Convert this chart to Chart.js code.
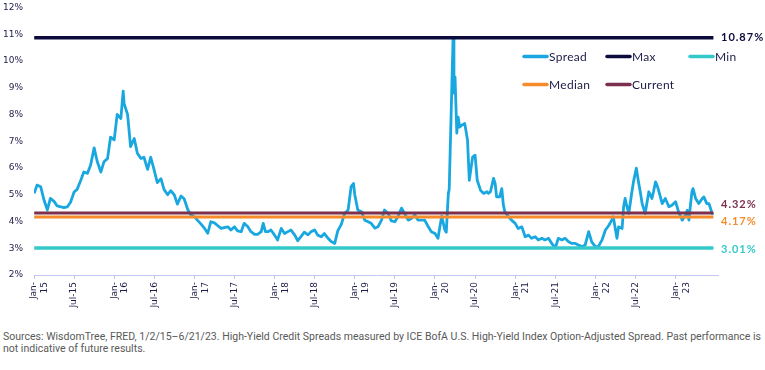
<!DOCTYPE html>
<html><head><meta charset="utf-8">
<script src="https://cdn.jsdelivr.net/npm/chart.js@4.4.1/dist/chart.umd.min.js"></script>
<style>
html,body{margin:0;padding:0;background:#fff;width:765px;height:370px;overflow:hidden}
#wrap{position:relative;width:765px;height:370px}
canvas{position:absolute;left:0;top:-9px}
.foot{position:absolute;left:3px;white-space:nowrap;font-family:'Liberation Sans Narrow','Roboto','Open Sans',sans-serif;font-size:11.5px;color:#595959;transform-origin:0 0;line-height:12px}
</style></head><body>
<div id="wrap"><canvas id="c" width="765" height="329"></canvas>
<div class="foot" id="f1" style="top:330px">Sources: WisdomTree, FRED, 1/2/15–6/21/23. High-Yield Credit Spreads measured by ICE BofA U.S. High-Yield Index Option-Adjusted Spread. Past performance is</div>
<div class="foot" id="f2" style="top:342px">not indicative of future results.</div>
</div>
<script>
// ---- DATA ----
const dates = [
 "2015-01-02","2015-01-15","2015-02-01","2015-02-15","2015-03-01","2015-03-15","2015-04-01","2015-04-15","2015-05-01","2015-05-15","2015-06-01","2015-06-15","2015-07-01","2015-07-15","2015-08-01","2015-08-15","2015-09-01","2015-09-15","2015-10-01","2015-10-15","2015-11-01","2015-11-15","2015-12-01","2015-12-15",
 "2016-01-01","2016-01-15","2016-02-01","2016-02-11","2016-02-15","2016-03-01","2016-03-15","2016-04-01","2016-04-15","2016-05-01","2016-05-15","2016-06-01","2016-06-15","2016-07-01","2016-07-15","2016-08-01","2016-08-15","2016-09-01","2016-09-15","2016-10-01","2016-10-15","2016-11-01","2016-11-15","2016-12-01","2016-12-15",
 "2017-01-01","2017-01-15","2017-02-01","2017-02-15","2017-03-01","2017-03-15","2017-04-01","2017-04-15","2017-05-01","2017-05-15","2017-06-01","2017-06-15","2017-07-01","2017-07-15","2017-08-01","2017-08-15","2017-09-01","2017-09-15","2017-10-01","2017-10-15","2017-11-01","2017-11-10","2017-11-20","2017-12-01","2017-12-15",
 "2018-01-01","2018-01-15","2018-02-01","2018-02-15","2018-03-01","2018-03-15","2018-04-01","2018-04-15","2018-05-01","2018-05-15","2018-06-01","2018-06-15","2018-07-01","2018-07-15","2018-08-01","2018-08-15","2018-09-01","2018-09-15","2018-10-01","2018-10-15","2018-11-01","2018-11-15","2018-12-01","2018-12-15","2018-12-26",
 "2019-01-01","2019-01-15","2019-02-01","2019-02-15","2019-03-01","2019-03-15","2019-04-01","2019-04-15","2019-05-01","2019-05-15","2019-06-01","2019-06-15","2019-07-01","2019-07-15","2019-08-01","2019-08-15","2019-09-01","2019-09-15","2019-10-01","2019-10-15","2019-11-01","2019-11-15","2019-12-01","2019-12-15",
 "2020-01-01","2020-01-15","2020-02-01","2020-02-15","2020-02-21","2020-03-01","2020-03-05","2020-03-12","2020-03-23","2020-03-27","2020-04-01","2020-04-09","2020-04-15","2020-04-22","2020-05-01","2020-05-15","2020-05-28","2020-06-05","2020-06-20","2020-07-01","2020-07-11","2020-07-26","2020-08-10","2020-08-25","2020-09-01","2020-09-10","2020-09-24","2020-10-01","2020-10-08","2020-10-22","2020-11-01","2020-11-08","2020-11-15","2020-12-01","2020-12-15",
 "2021-01-01","2021-01-15","2021-02-01","2021-02-15","2021-03-01","2021-03-15","2021-04-01","2021-04-15","2021-05-01","2021-05-15","2021-06-01","2021-06-15","2021-07-01","2021-07-15","2021-08-01","2021-08-15","2021-09-01","2021-09-15","2021-10-01","2021-10-15","2021-11-01","2021-11-15","2021-12-01","2021-12-15",
 "2022-01-01","2022-01-15","2022-02-01","2022-02-15","2022-03-01","2022-03-15","2022-03-22","2022-04-08","2022-04-15","2022-05-01","2022-05-08","2022-05-15","2022-05-20","2022-06-01","2022-06-15","2022-06-22","2022-07-05","2022-07-15","2022-07-22","2022-08-01","2022-08-15","2022-09-01","2022-09-15","2022-09-22","2022-10-01","2022-10-08","2022-10-15","2022-11-01","2022-11-15","2022-12-01","2022-12-15",
 "2023-01-01","2023-01-15","2023-02-01","2023-02-15","2023-02-22","2023-03-01","2023-03-08","2023-03-15","2023-03-20","2023-04-01","2023-04-15","2023-05-01","2023-05-08","2023-05-22","2023-06-01","2023-06-15","2023-06-21"
];
const spread = [
 5.05,5.36,5.30,4.80,4.43,4.86,4.75,4.58,4.55,4.52,4.55,4.72,5.10,5.20,5.54,5.85,5.80,6.10,6.75,6.25,5.85,6.23,6.35,7.15,
 7.05,8.00,7.85,8.87,8.40,8.00,6.80,7.10,6.55,6.35,6.40,5.95,6.40,5.90,5.45,5.60,5.20,5.00,5.15,4.99,4.65,4.95,4.85,4.45,4.25,
 4.18,4.05,3.90,3.75,3.56,3.99,3.95,3.85,3.74,3.77,3.80,3.68,3.80,3.65,3.62,3.93,3.80,3.62,3.52,3.52,3.62,3.93,3.62,3.62,3.68,
 3.49,3.31,3.74,3.55,3.62,3.68,3.50,3.28,3.45,3.60,3.50,3.62,3.68,3.49,3.43,3.55,3.37,3.25,3.18,3.65,3.90,4.30,4.43,5.30,5.42,
 5.00,4.43,4.36,4.05,3.99,3.93,3.75,3.80,4.05,4.43,4.30,4.02,3.99,4.18,4.50,4.30,4.05,4.11,4.24,4.05,4.05,4.05,3.80,3.62,
 3.55,3.37,4.20,3.68,3.60,5.05,5.20,7.40,10.87,8.80,9.40,7.30,7.90,7.53,7.60,7.66,7.04,5.54,6.41,6.48,5.54,5.17,5.05,5.11,5.05,5.11,5.61,5.42,4.92,4.92,5.23,4.61,4.36,4.18,4.05,
 3.93,3.74,3.80,3.43,3.49,3.37,3.43,3.31,3.37,3.31,3.37,3.18,3.01,3.37,3.31,3.37,3.24,3.18,3.18,3.12,3.06,3.12,3.62,3.24,
 3.06,3.06,3.31,3.68,3.85,4.05,4.18,3.37,3.80,3.74,4.55,4.86,4.67,4.30,5.11,5.48,5.99,5.48,5.17,4.67,4.30,5.11,4.86,5.11,5.48,5.36,5.17,4.67,4.86,4.55,4.61,
 4.74,4.36,4.05,4.24,4.42,4.05,4.61,5.11,5.23,4.86,4.67,4.86,4.92,4.67,4.67,4.30,4.32
];
const maxValue = 10.87;
const minValue = 3.01;
const medianValue = 4.17;
const currentValue = 4.32;
const seriesNames = ["Spread","Max","Min","Median","Current"];
const xTickMonths = [0,6,12,18,24,30,36,42,48,54,60,66,72,78,84,90,96];
const xTickLabels = [["Jan-","15"],"Jul-15",["Jan-","16"],"Jul-16",["Jan-","17"],"Jul-17",["Jan-","18"],"Jul-18",["Jan-","19"],"Jul-19",["Jan-","20"],"Jul-20",["Jan-","21"],"Jul-21",["Jan-","22"],"Jul-22",["Jan-","23"]];

// ---- helpers ----
function monthsSince2015(s){const [Y,M,D]=s.split('-').map(Number);const dim=new Date(Y,M,0).getDate();return (Y-2015)*12+(M-1)+(D-1)/dim;}
const xs = dates.map(monthsSince2015);
const x0 = xs[0], x1 = xs[xs.length-1];
const spreadPts = xs.map((x,i)=>({x:x,y:spread[i]}));
const hline = v => [{x:x0,y:v},{x:x1,y:v}];

const colors = {Spread:'#19a7e0',Max:'#0d0b3d',Min:'#33c9cb',Median:'#f58b2b',Current:'#7d2f4e'};
const navy = '#1c1c48';

const overlay = {
  id:'overlay',
  afterDatasetsDraw(chart){
    const {ctx, chartArea:a, scales:{y}} = chart;
    ctx.save();
    ctx.font = "bold 11px Lato";
    try{ctx.letterSpacing='1px';}catch(e){}
    ctx.textBaseline='middle'; ctx.textAlign='left';
    const lx = a.right + 3;
    [[maxValue,colors.Max,0],[currentValue,colors.Current,-8],[medianValue,colors.Median,5],[minValue,colors.Min,1]].forEach(([v,c,off])=>{
      ctx.fillStyle=c;
      ctx.fillText(v.toFixed(2)+'%', lx, y.getPixelForValue(v)+off);
    });
    try{ctx.letterSpacing='0.3px';}catch(e){}
    ctx.font = "12px Lato";
    const cols=[a.right-196,a.right-113,a.right-30];
    const rows=[a.top+49,a.top+77];
    const place=[[0,0],[1,0],[2,0],[0,1],[1,1]];
    seriesNames.forEach((n,i)=>{
      const lxp=cols[place[i][0]], ly=rows[place[i][1]];
      ctx.strokeStyle=colors[n]; ctx.lineWidth=3.5; ctx.lineCap='round';
      ctx.beginPath(); ctx.moveTo(lxp+2,ly); ctx.lineTo(lxp+25,ly); ctx.stroke();
      ctx.fillStyle=navy;
      ctx.fillText(n, lxp+27, ly+0.5);
    });
    ctx.restore();
  }
};

new Chart(document.getElementById('c'),{
  type:'line',
  data:{datasets:[
    {label:seriesNames[0],data:spreadPts,borderColor:colors.Spread,borderWidth:2.8,pointRadius:0,tension:0,order:10,borderJoinStyle:'round'},
    {label:seriesNames[1],data:hline(maxValue),borderColor:colors.Max,borderWidth:3.5,pointRadius:0,order:1},
    {label:seriesNames[2],data:hline(minValue),borderColor:colors.Min,borderWidth:3.5,pointRadius:0,order:1},
    {label:seriesNames[3],data:hline(medianValue),borderColor:colors.Median,borderWidth:3,pointRadius:0,order:1},
    {label:seriesNames[4],data:hline(currentValue),borderColor:colors.Current,borderWidth:3,pointRadius:0,order:1}
  ]},
  options:{
    responsive:false,animation:false,devicePixelRatio:1,
    layout:{padding:{top:7,right:47,left:0,bottom:0}},
    plugins:{legend:{display:false},tooltip:{enabled:false}},
    scales:{
      x:{type:'linear',min:0,max:102.35,
        afterFit(s){s.height=45;},
        afterBuildTicks(s){s.ticks=xTickMonths.map(v=>({value:v}));},
        border:{display:true,color:'#c5c5f2',width:1},
        grid:{display:true,drawOnChartArea:false,drawTicks:true,tickLength:4,color:'#c5c5f2'},
        ticks:{autoSkip:false,maxRotation:90,minRotation:90,padding:3,color:navy,
          font:{family:'DejaVu Sans',size:9},
          callback:(v,i)=>xTickLabels[i]}
      },
      y:{min:2,max:12,
        afterFit(s){s.width=34;},
        border:{display:false},
        grid:{display:false,drawTicks:false},
        ticks:{stepSize:1,padding:11,color:navy,font:{family:'DejaVu Sans',size:9},callback:v=>v+'%'}
      }
    }
  },
  plugins:[overlay]
});

(function(){
  const f1=document.getElementById('f1'), f2=document.getElementById('f2');
  const w=f1.getBoundingClientRect().width;
  const s=758/w;
  f1.style.transform='scaleX('+s+')';
  f2.style.transform='scaleX('+s+')';
})();
</script>
</body></html>
